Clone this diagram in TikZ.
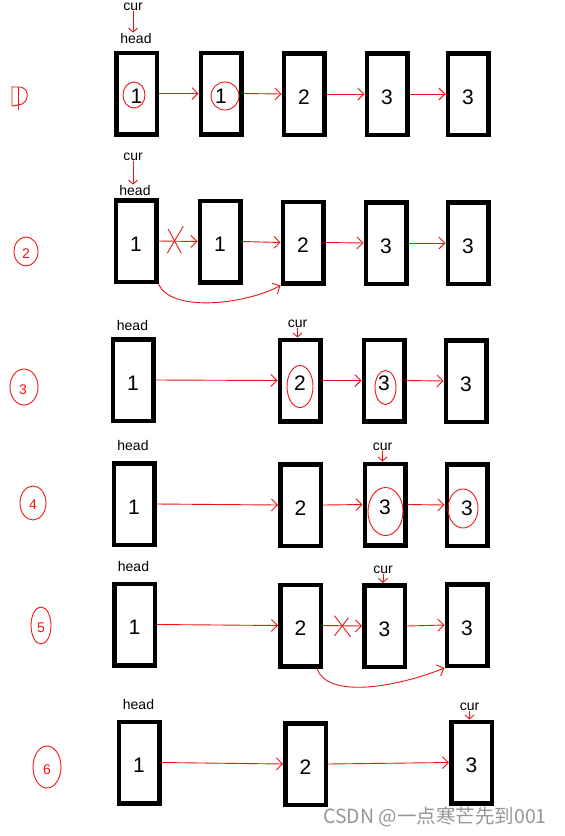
\documentclass[tikz,border=0pt]{standalone}
\usepackage{fontspec}
\setmainfont{Liberation Sans}
\newfontfamily\cjk{Noto Sans CJK SC}
\usetikzlibrary{arrows.meta}
\definecolor{wmgray}{RGB}{150,150,150}
\definecolor{pen}{RGB}{240,20,20}
\newcommand\dg[1]{\raisebox{-3pt}[\height][0pt]{#1}}
\begin{document}
\begin{tikzpicture}[x=1pt,y=-1pt,
  box/.style={draw=black, line width=4.5pt, minimum width=40.5pt, minimum height=81.5pt, inner sep=0pt, font=\fontsize{21}{21}\selectfont},
  lbl/.style={inner sep=0pt, font=\fontsize{14}{14}\selectfont},
  hand/.style={draw=pen, line width=0.9pt},
  rarr/.style={pen, line width=0.9pt, -{Straight Barb[length=6pt,width=12pt,line width=0.9pt]}},
  sarr/.style={pen, line width=0.9pt, -{Straight Barb[length=4pt,width=9pt,line width=0.9pt]}},
  stepnum/.style={text=pen, inner sep=0pt, font=\fontsize{14}{14}\selectfont},
]
\useasboundingbox[fill=white] (0,0) rectangle (565,836);

% ---------- row 1 ----------
\node[box] (r1a) at (136.5,93.5) {\dg{1}};
\node[box] (r1b) at (221,93.5) {\dg{1}};
\node[box] (r1c) at (304,94) {\dg{2}};
\node[box] (r1d) at (387,94) {\dg{3}};
\node[box] (r1e) at (468,94) {\dg{3}};
\node[lbl] (r1cur) at (133,7) {cur};
\node[lbl] (r1head) at (136,38) {head};
\draw[sarr] (r1cur.south) -- (r1cur.south |- r1head.north);
\draw[rarr] (r1a.east) -- (r1b.west);
\draw[rarr] (r1b.east) -- (r1c.west);
\draw[rarr] (r1c.east) -- (r1d.west);
\draw[rarr] (r1d.east) -- (r1e.west);
\draw[hand] ([shift={(-2.5,1.5)}]r1a.center) ellipse [x radius=11, y radius=13];
\draw[hand] ([shift={(4,2.5)}]r1b.center) ellipse [x radius=14, y radius=14];
\draw[hand] (12,86) -- (12,106) -- (18,105);
\draw[hand] (18,87) -- (18,110);
\draw[hand] (12,87) -- (20,87) .. controls (30,88) and (30,104) .. (18,105);

% ---------- row 2 ----------
\node[box] (r2a) at (136,241) {\dg{1}};
\node[box] (r2b) at (220,241.5) {\dg{1}};
\node[box] (r2c) at (303,242.5) {\dg{2}};
\node[box] (r2d) at (386,243) {\dg{3}};
\node[box] (r2e) at (468,243) {\dg{3}};
\node[lbl] (r2cur) at (133,157) {cur};
\node[lbl] (r2head) at (135,190) {head};
\draw[sarr] (r2cur.south) -- (r2cur.south |- r2head.north);
\draw[rarr] (r2a.east) -- (r2b.west) coordinate[pos=0.43] (x2);
\draw[hand] (x2) +(-7,-12) -- +(6,12);
\draw[hand] (x2) +(8,-15) -- +(-8,12);
\draw[rarr] (r2b.east) -- (r2c.west);
\draw[rarr] (r2c.east) -- (r2d.west);
\draw[rarr] (r2d.east) -- (r2e.west);
\draw[rarr] (r2a.south east) .. controls +(12,28) and +(-38,20) .. (r2c.south west);
\draw[hand] (26,251.5) ellipse [x radius=12, y radius=14.5];
\node[stepnum] (s2) at (26,254) {2};

% ---------- row 3 ----------
\node[box] (r3a) at (133,380) {\dg{1}};
\node[box] (r3b) at (300,380.5) {\dg{2}};
\node[box] (r3c) at (384,380.5) {\dg{3}};
\node[box] (r3d) at (466,381) {\dg{3}};
\node[lbl] (r3head) at (132.5,325) {head};
\node[lbl] (r3cur) at (297.5,324) {cur};
\draw[sarr] (r3cur.south) -- (r3cur.south |- r3b.north);
\draw[rarr] (r3a.east) -- (r3b.west);
\draw[rarr] (r3b.east) -- (r3c.west);
\draw[rarr] (r3c.east) -- (r3d.west);
\draw[hand] ([shift={(0,6)}]r3b.center) ellipse [x radius=13, y radius=21];
\draw[hand] ([shift={(1.5,7)}]r3c.center) ellipse [x radius=10.5, y radius=17];
\draw[hand] (24,387) ellipse [x radius=14, y radius=18];
\node[stepnum] (s3) at (23,390) {3};

% ---------- row 4 ----------
\node[box] (r4a) at (134,504) {\dg{1}};
\node[box] (r4b) at (300.5,505) {\dg{2}};
\node[box] (r4c) at (385,504.5) {\dg{3}};
\node[box] (r4d) at (467,505) {\dg{3}};
\node[lbl] (r4head) at (133,445) {head};
\node[lbl] (r4cur) at (382.5,447) {cur};
\draw[sarr] (r4cur.south) -- (r4cur.south |- r4c.north);
\draw[rarr] (r4a.east) -- (r4b.west);
\draw[rarr] (r4b.east) -- (r4c.west);
\draw[rarr] (r4c.east) -- (r4d.west);
\draw[hand] ([shift={(0.5,7)}]r4c.center) ellipse [x radius=17.5, y radius=24];
\draw[hand] ([shift={(-4,3.5)}]r4d.center) ellipse [x radius=15, y radius=19.5];
\draw[hand] (33,503) ellipse [x radius=13, y radius=17];
\node[stepnum] (s4) at (33,505) {4};

% ---------- row 5 ----------
\node[box] (r5a) at (134.5,624.5) {\dg{1}};
\node[box] (r5b) at (300.5,625.5) {\dg{2}};
\node[box] (r5c) at (384.5,626) {\dg{3}};
\node[box] (r5d) at (467,625) {\dg{3}};
\node[lbl] (r5head) at (133.5,566) {head};
\node[lbl] (r5cur) at (383,570) {cur};
\draw[sarr] (r5cur.south) -- (r5cur.south |- r5c.north);
\draw[rarr] (r5a.east) -- (r5b.west);
\draw[rarr] (r5b.east) -- (r5c.west) coordinate[pos=0.5] (x5);
\draw[hand] (x5) +(-8,-10) -- +(8,11);
\draw[hand] (x5) +(6,-8) -- +(-8,10);
\draw[rarr] (r5c.east) -- (r5d.west);
\draw[rarr] ([xshift=-6pt]r5b.south east) .. controls +(10,30) and +(-50,20) .. (r5d.south west);
\draw[hand] (41,625.5) ellipse [x radius=10, y radius=18.5];
\node[stepnum] (s5) at (41,628) {5};

% ---------- row 6 ----------
\node[box] (r6a) at (139,762.5) {\dg{1}};
\node[box] (r6b) at (305.5,764) {\dg{2}};
\node[box] (r6c) at (471.5,762.5) {\dg{3}};
\node[lbl] (r6head) at (138.5,704) {head};
\node[lbl] (r6cur) at (469.5,707) {cur};
\draw[sarr] (r6cur.south) -- (r6cur.south |- r6c.north);
\draw[rarr] (r6a.east) -- (r6b.west);
\draw[rarr] (r6b.east) -- (r6c.west);
\draw[hand] (47,767) ellipse [x radius=14, y radius=21];
\node[stepnum] (s6) at (47,770) {6};

% ---------- watermark ----------
\node[inner sep=0pt, text=wmgray, font=\cjk\fontsize{19.5}{19.5}\selectfont] (wm) at (435,817) {CSDN @一点寒芒先到001};
\end{tikzpicture}
\end{document}
